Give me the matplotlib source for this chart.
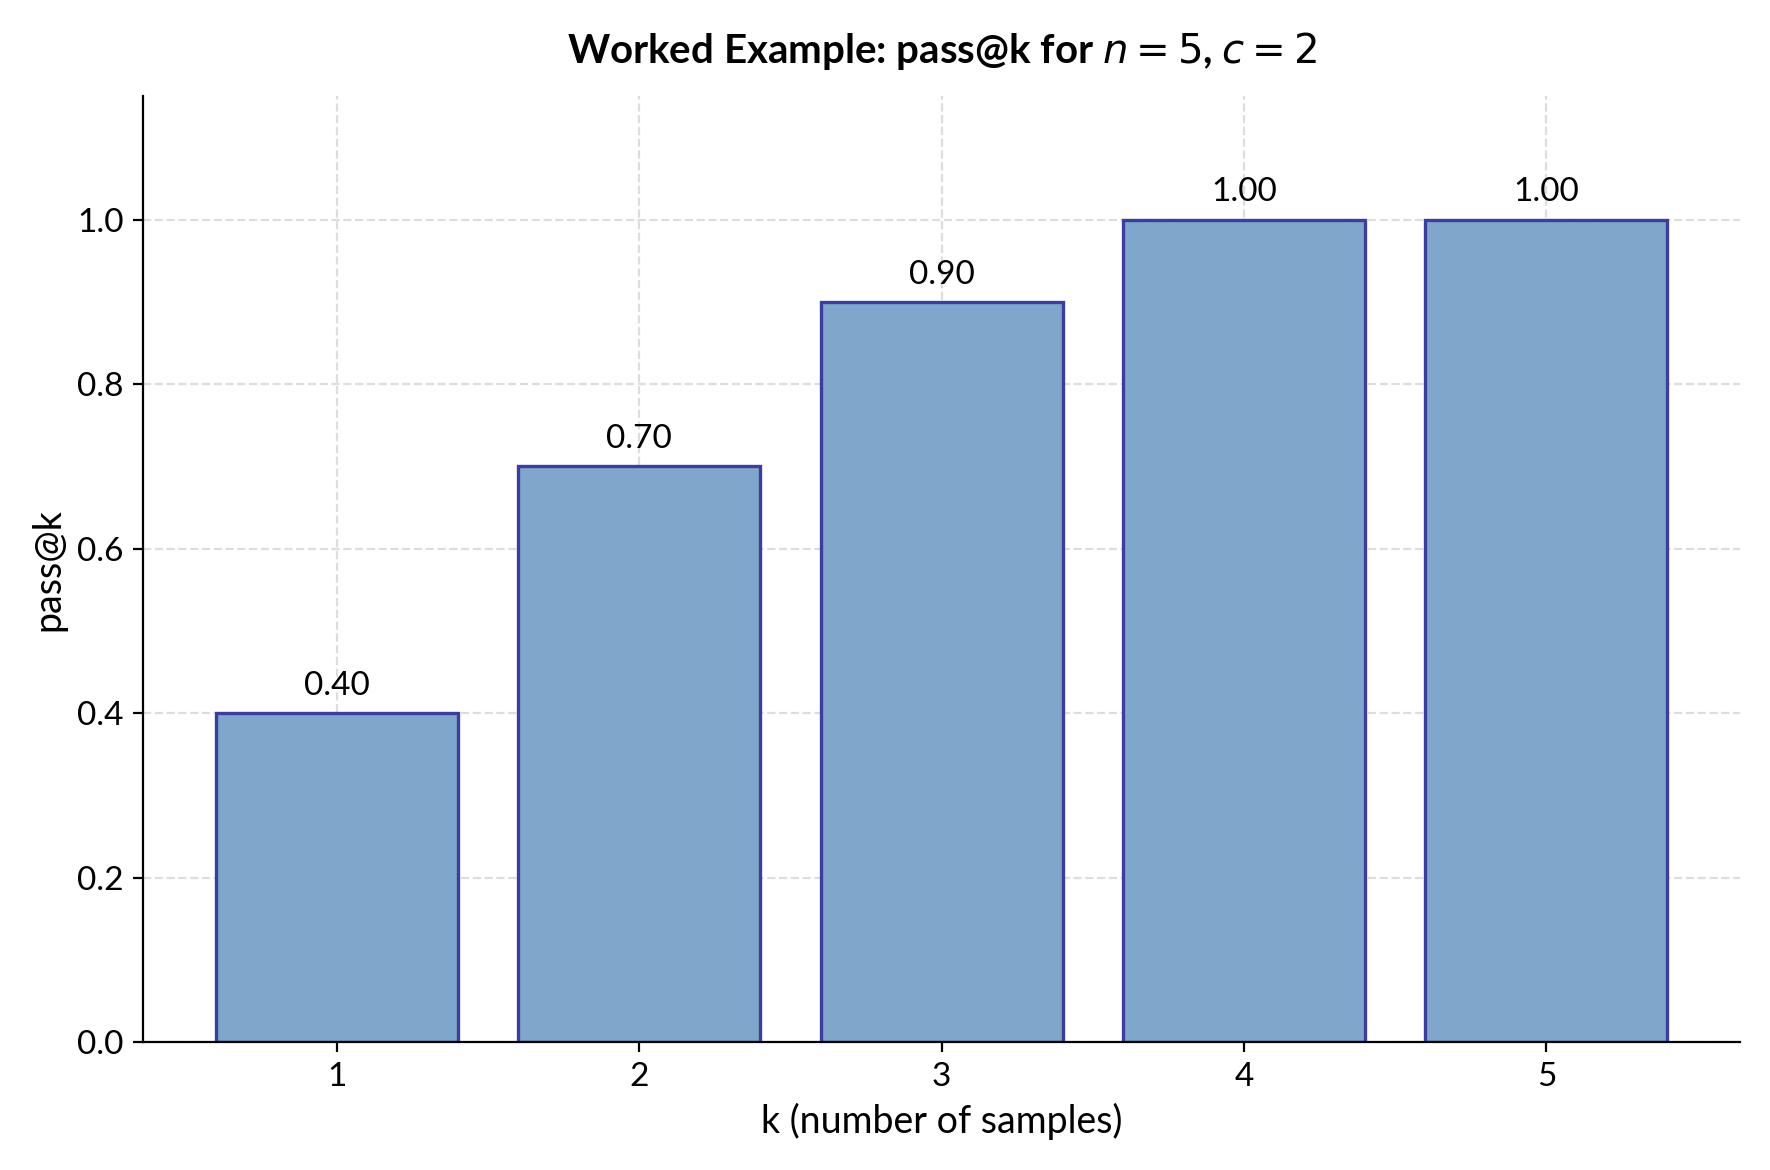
import matplotlib.pyplot as plt

k_values = [1, 2, 3, 4, 5]
pass_at_k = [0.40, 0.70, 0.90, 1.00, 1.00]

plt.rcParams['font.family'] = ['Lato', 'DejaVu Sans']
plt.rcParams['mathtext.fontset'] = 'dejavusans'

fig, ax = plt.subplots(figsize=(8.85, 5.85), dpi=200)

bars = ax.bar(k_values, pass_at_k, width=0.8, color='#7ea7cb',
              edgecolor='#3b3ea0', linewidth=1.2, zorder=2)

for x, v in zip(k_values, pass_at_k):
    ax.text(x, v + 0.015, f"{v:.2f}", ha='center', va='bottom', fontsize=12)

ax.set_title(r"Worked Example: pass@k for $n = 5$, $c = 2$",
             fontsize=14.5, fontweight='bold', pad=12)
ax.set_xlabel("k (number of samples)", fontsize=13.5)
ax.set_ylabel("pass@k", fontsize=13.5)

ax.set_ylim(0, 1.15)
ax.set_xticks(k_values)
ax.grid(True, linestyle='--', color='#dddddd', linewidth=0.8, zorder=0)
ax.set_axisbelow(True)
ax.spines['top'].set_visible(False)
ax.spines['right'].set_visible(False)
ax.tick_params(axis='both', labelsize=12)

fig.tight_layout()
plt.savefig('out.png', dpi=200)
